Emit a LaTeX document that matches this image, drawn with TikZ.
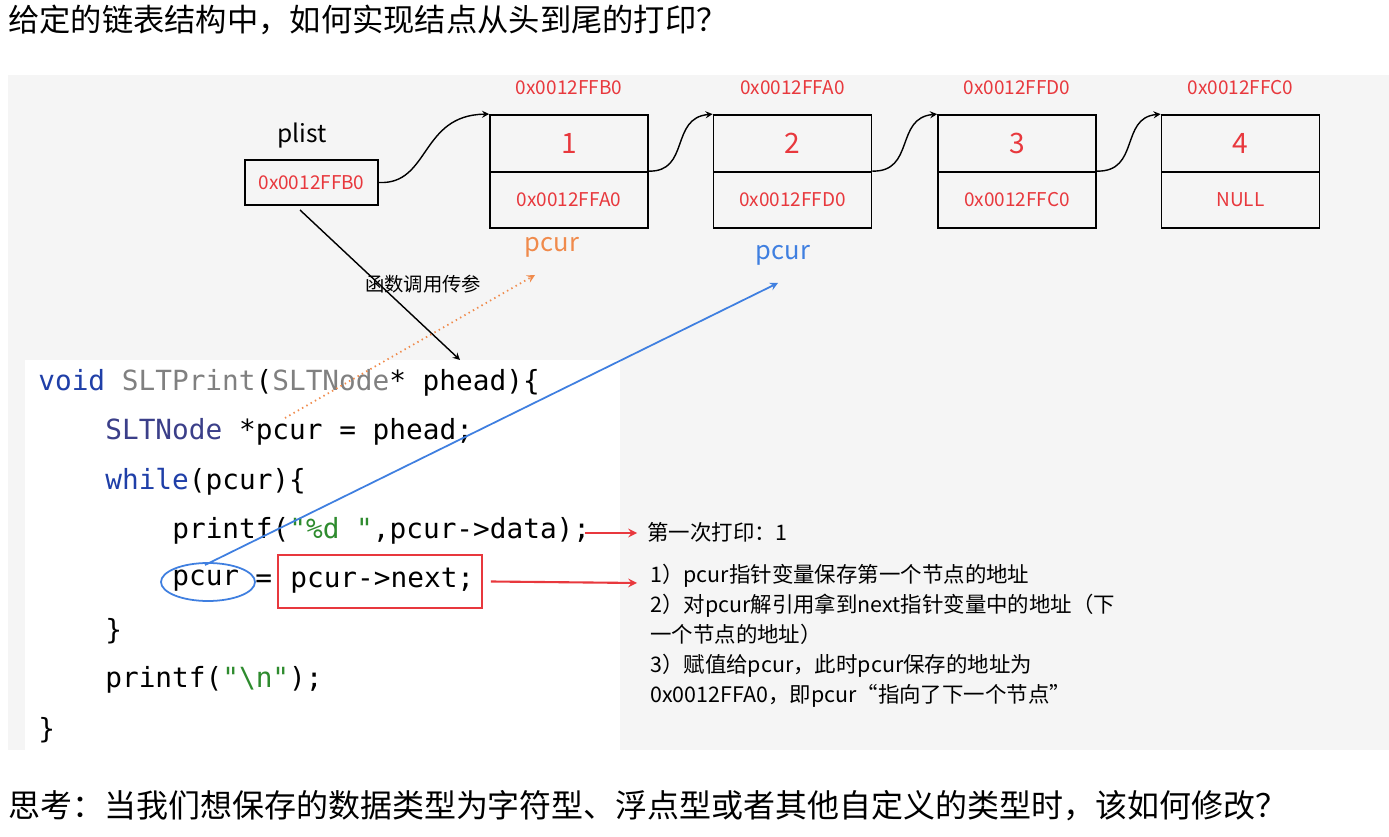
\documentclass[tikz,border=0pt]{standalone}
\usepackage{fontspec}
\setmainfont{Noto Sans CJK SC}
\newfontfamily\codefont{DejaVu Sans Mono}
\usetikzlibrary{calc}
\definecolor{addrred}{HTML}{E8383D}
\definecolor{kwblue}{HTML}{1F3FA8}
\definecolor{fnblue}{HTML}{1A4F9C}
\definecolor{strgreen}{HTML}{2E8B2E}
\definecolor{pcurorange}{HTML}{F08A4B}
\definecolor{pcurblue}{HTML}{3F7FE0}
\definecolor{panelgrey}{HTML}{F5F5F5}
\begin{document}
\begin{tikzpicture}
[x=0.02cm, y=-0.02cm,
 every node/.style={inner sep=0pt},
 listbox/.style={draw, line width=1pt},
 addr/.style={text=addrred, font=\fontsize{10.8}{12}\selectfont},
 val/.style={text=addrred, font=\fontsize{16}{18}\selectfont},
 code/.style={anchor=west, font=\codefont\fontsize{15.8}{18}\selectfont},
 note/.style={anchor=west, align=left, font=\fontsize{12.2}{17}\selectfont},
 hop/.style={->, >=stealth, line width=0.8pt}]
\useasboundingbox (0,0) rectangle (1389,837);
% Background panels
\fill[panelgrey] (8,75) rectangle (1389,750);
\fill[white] (25,360) rectangle (620,750);
\node[anchor=west, font=\fontsize{17.8}{20}\selectfont] (title) at (8,20) {给定的链表结构中，如何实现结点从头到尾的打印？};
\node[anchor=west, font=\fontsize{18.2}{20}\selectfont] (think) at (8,806) {思考：当我们想保存的数据类型为字符型、浮点型或者其他自定义的类型时，该如何修改？};
% plist
\node[anchor=south, font=\fontsize{14}{16}\selectfont] (plistlbl) at (302,148) {plist};
\node[listbox, minimum width=133*0.02cm, minimum height=45*0.02cm, addr] (plist) at (311.5,182.5) {0x0012FFB0};
% List nodes
\foreach \i/\x/\v/\a/\n in {1/569/1/0x0012FFB0/0x0012FFA0, 2/792.5/2/0x0012FFA0/0x0012FFD0, 3/1017/3/0x0012FFD0/0x0012FFC0, 4/1240.5/4/0x0012FFC0/NULL}{
  \node[listbox, minimum width=158*0.02cm, minimum height=57*0.02cm, val] (d\i) at (\x,143.5) {\v};
  \node[listbox, minimum width=158*0.02cm, minimum height=56*0.02cm, addr] (n\i) at (\x,200) {\n};
  \node[addr] (a\i) at (\x,88) {\a};
}
\draw[hop] (plist.east) .. controls (430,185) and (420,115) .. (d1.north west);
\draw[hop] (n1.north east) .. controls (690,172) and (670,118) .. (d2.north west);
\draw[hop] (n2.north east) .. controls (915,172) and (895,118) .. (d3.north west);
\draw[hop] (n3.north east) .. controls (1140,172) and (1120,118) .. (d4.north west);
\node[text=pcurorange, font=\fontsize{14.5}{16}\selectfont] (pcur1) at (552,247) {pcur};
\node[text=pcurblue, font=\fontsize{14.5}{16}\selectfont] (pcur2) at (783,255) {pcur};
% Code
\node[code] (c1) at (38,383) {\textcolor{kwblue}{void} \textcolor{gray}{SLTPrint}(\textcolor{gray}{SLTNode}* phead)\{};
\node[code] (c2) at (105,432) {\textcolor{fnblue!80!purple}{SLTNode} *pcur = phead;};
\node[code] (c3) at (105,482) {\textcolor{kwblue}{while}(pcur)\{};
\node[code] (c4) at (172,531) {printf(\textcolor{strgreen}{"\%d "},pcur->data);};
\node[code] (c5) at (172,581) {pcur};
\node[code] (c5b) at (255,581) {=};
\node[code] (c5c) at (290,581) {pcur->next;};
\node[code] (c6) at (105,631) {\}};
\node[code] (c7) at (105,680) {printf(\textcolor{strgreen}{"\textbackslash n"});};
\node[code] (c8) at (38,730) {\}};
\draw[pcurblue, line width=1pt] (208,582) ellipse (47 and 19);
\node[draw=addrred, line width=1pt, minimum width=204*0.02cm, minimum height=53*0.02cm] (nextbox) at (380,581.5) {};
% Arrows
\coordinate (plistout) at (300,210);
\coordinate (codein) at (460,360);
\draw[hop] (plistout) -- (codein);
\node[font=\fontsize{11}{12}\selectfont] (callarg) at (423,284) {函数调用传参};
\coordinate (orgstart) at (285,418);
\draw[hop, pcurorange, dotted, line width=1pt] (orgstart) -- (535,275);
\coordinate (bluestart) at (205,565);
\draw[hop, pcurblue, line width=1pt] (bluestart) -- (778,283);
\node[note] (note1) at (647,532) {第一次打印：1};
\node[note, anchor=north west] (note2) at (650,564) {1）pcur指针变量保存第一个节点的地址\\2）对pcur解引用拿到next指针变量中的地址（下\\一个节点的地址）\\3）赋值给pcur，此时pcur保存的地址为\\0x0012FFA0，即pcur“指向了下一个节点”};
\draw[hop, addrred, line width=1.2pt] (585,533) -- (637,533);
\draw[hop, addrred, line width=1.2pt] ($(nextbox.east)+(8,0)$) -- (637,583);
\end{tikzpicture}
\end{document}
